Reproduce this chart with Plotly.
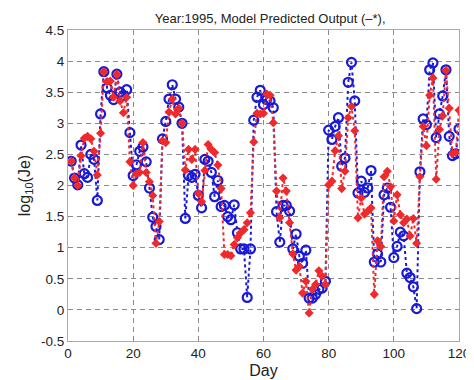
import plotly.graph_objects as go

days = list(range(1, 121))

observed = [
    2.39, 2.12, 2.01, 2.65, 2.19, 2.13, 2.50, 2.42, 1.76, 3.15,
    3.83, 3.57, 3.45, 3.38, 3.79, 3.50, 3.45, 3.54, 2.85, 2.16,
    2.33, 2.55, 2.62, 2.38, 1.96, 1.49, 1.34, 1.13, 2.75, 3.03,
    3.39, 3.62, 3.39, 3.26, 3.00, 1.47, 2.16, 2.13, 2.18, 1.84,
    1.64, 2.42, 2.39, 2.21, 1.82, 2.08, 1.66, 1.68, 1.50, 1.45,
    1.69, 1.24, 0.98, 0.98, 0.20, 0.98, 3.05, 3.42, 3.53, 3.30,
    3.38, 3.36, 3.25, 1.58, 1.09, 1.68, 1.68, 1.59, 0.98, 1.22,
    0.86, 0.75, 0.96, 0.19, 0.19, 0.25, 0.33, 0.35, 0.46, 2.89,
    2.74, 2.95, 3.09, 2.31, 2.44, 3.66, 3.98, 3.36, 1.88, 2.07,
    1.89, 1.96, 2.24, 0.77, 0.90, 0.77, 1.85, 1.96, 1.65, 0.84,
    1.02, 1.25, 1.19, 0.59, 0.52, 0.37, 0.02, 2.22, 3.07, 2.98,
    3.86, 3.97, 2.77, 3.15, 3.44, 3.86, 2.79, 2.48, 2.51, 2.91,
]

predicted = [
    2.39, 2.12, 2.00, 2.48, 2.76, 2.79, 2.75, 2.55, 2.17, 2.84,
    3.83, 3.67, 3.68, 3.42, 3.79, 3.36, 3.17, 3.42, 2.38, 2.00,
    2.19, 2.21, 2.69, 2.21, 2.06, 1.84, 1.07, 1.42, 2.72, 2.69,
    3.18, 3.39, 3.15, 3.24, 3.00, 2.25, 2.58, 2.42, 2.58, 1.87,
    1.74, 2.24, 2.66, 2.58, 2.53, 2.33, 1.95, 0.89, 0.89, 0.87,
    1.05, 1.16, 1.24, 1.29, 1.40, 1.56, 2.70, 3.16, 3.15, 3.16,
    3.47, 3.45, 3.01, 1.91, 1.48, 2.12, 1.91, 1.40, 0.90, 0.64,
    0.70, 0.27, 0.46, -0.05, 0.33, 0.41, 0.63, 0.54, 0.41, 2.01,
    2.07, 2.56, 2.80, 1.95, 2.23, 3.09, 3.27, 2.88, 1.48, 1.80,
    1.54, 1.59, 1.64, 0.25, 1.11, 1.02, 2.14, 2.23, 1.98, 1.43,
    1.85, 1.53, 1.40, 1.46, 1.19, 1.47, 1.07, 2.14, 2.95, 2.64,
    3.45, 3.73, 2.10, 2.90, 3.12, 3.85, 3.24, 2.51, 2.53, 3.21,
]

x_ticks = [0, 20, 40, 60, 80, 100, 120]
y_ticks = [-0.5, 0, 0.5, 1, 1.5, 2, 2.5, 3, 3.5, 4, 4.5]
y_tick_text = ["-0.5", "0", "0.5", "1", "1.5", "2", "2.5", "3", "3.5", "4", "4.5"]

FONT = "Liberation Sans, Arial, sans-serif"

fig = go.Figure()
fig.add_trace(go.Scatter(
    x=days, y=observed, mode="lines+markers",
    line=dict(color="#1a1ad6", width=2, dash="dot"),
    marker=dict(symbol="circle-open", size=9, color="#1a1ad6", line=dict(width=2.2)),
    showlegend=False,
))
fig.add_trace(go.Scatter(
    x=days, y=predicted, mode="lines+markers",
    line=dict(color="#f02a2a", width=2, dash="dot"),
    marker=dict(symbol="diamond", size=7, color="#f02a2a"),
    showlegend=False,
))

axis_common = dict(
    showgrid=True, gridcolor="#8a8a8a", griddash="5px,4px", gridwidth=1,
    showline=True, linecolor="#aaaaaa", linewidth=1, mirror=True,
    ticks="inside", ticklen=4, tickcolor="#888888",
    zeroline=False,
    tickfont=dict(family=FONT, size=13.5, color="#222222"),
)

fig.update_layout(
    width=474, height=380,
    margin=dict(l=60, r=12, t=22, b=41),
    paper_bgcolor="white", plot_bgcolor="white",
    title=dict(
        text="Year:1995, Model Predicted Output (\u2013*),",
        x=0.553, xanchor="center", y=0.985, yanchor="top",
        font=dict(family=FONT, size=13, color="#222222"),
    ),
    xaxis=dict(
        range=[0, 120], tickvals=x_ticks,
        title=dict(text="Day", standoff=4, font=dict(family=FONT, size=16, color="#222222")),
        **axis_common,
    ),
    yaxis=dict(
        range=[-0.5, 4.5], tickvals=y_ticks, ticktext=y_tick_text,
        title=dict(text="log<sub>10</sub>(Je)", standoff=6, font=dict(family=FONT, size=16, color="#222222")),
        **axis_common,
    ),
)

fig.write_html("out.html")
